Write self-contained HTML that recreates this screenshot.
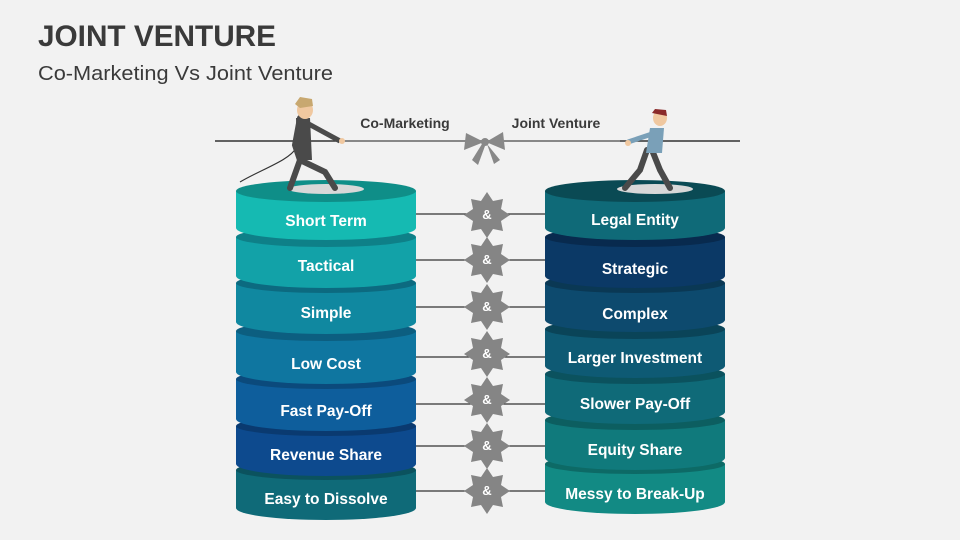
<!DOCTYPE html>
<html><head><meta charset="utf-8"><style>
html,body{margin:0;padding:0;background:#f2f2f2;}
svg{display:block;font-family:"Liberation Sans",sans-serif;}
</style></head><body>
<svg width="960" height="540" viewBox="0 0 960 540">
<rect width="960" height="540" fill="#f2f2f2"/>
<text x="38" y="46" font-size="30" font-weight="bold" fill="#3a3a3a" textLength="238" lengthAdjust="spacingAndGlyphs">JOINT VENTURE</text>
<text x="38" y="80" font-size="20" fill="#3a3a3a" textLength="295" lengthAdjust="spacingAndGlyphs">Co-Marketing Vs Joint Venture</text>
<text x="405" y="128" font-size="14" font-weight="bold" fill="#3a3a3a" text-anchor="middle">Co-Marketing</text>
<text x="556" y="128" font-size="14" font-weight="bold" fill="#3a3a3a" text-anchor="middle">Joint Venture</text>
<line x1="215" y1="141" x2="740" y2="141" stroke="#333" stroke-width="1.5"/>
<line x1="340" y1="141" x2="620" y2="141" stroke="#888" stroke-width="2"/>
<g fill="#888">
<path d="M484,142 L466,133 L464,150 Z"/><path d="M486,142 L503,132 L505,150 Z"/>
<path d="M482,144 L472,160 L478,165 L485,146 Z"/><path d="M487,144 L500,160 L494,164 Z"/>
<circle cx="485" cy="142" r="4"/></g>
<g stroke="#333" stroke-width="1.3">
<line x1="416" y1="214" x2="545" y2="214"/><line x1="416" y1="260" x2="545" y2="260"/>
<line x1="416" y1="307" x2="545" y2="307"/><line x1="416" y1="357" x2="545" y2="357"/>
<line x1="416" y1="404" x2="545" y2="404"/><line x1="416" y1="446" x2="545" y2="446"/>
<line x1="416" y1="491" x2="545" y2="491"/>
</g>
<defs>
<polygon id="star" points="0,-23 6,-14 16,-16 14,-6 23,0 14,6 16,16 6,14 0,23 -6,14 -16,16 -14,6 -23,0 -14,-6 -16,-16 -6,-14" fill="#858585"/>
</defs>
<g font-size="13" font-weight="bold" fill="#fff" text-anchor="middle">
<use href="#star" x="487" y="215"/><text x="487" y="219">&amp;</text>
<use href="#star" x="487" y="260"/><text x="487" y="264">&amp;</text>
<use href="#star" x="487" y="307"/><text x="487" y="311">&amp;</text>
<use href="#star" x="487" y="354"/><text x="487" y="358">&amp;</text>
<use href="#star" x="487" y="400"/><text x="487" y="404">&amp;</text>
<use href="#star" x="487" y="446"/><text x="487" y="450">&amp;</text>
<use href="#star" x="487" y="491"/><text x="487" y="495">&amp;</text>
</g>
<g font-size="15.5" font-weight="bold" fill="#fff" text-anchor="middle">
<path d="M236,470 L236,508 A90,12 0 0 0 416,508 L416,470 Z" fill="#0f6a78"/><ellipse cx="326" cy="470" rx="90" ry="10" fill="#0b525e"/><text x="326" y="504">Easy to Dissolve</text>
<path d="M236,426 L236,464 A90,12 0 0 0 416,464 L416,426 Z" fill="#0d4a8e"/><ellipse cx="326" cy="426" rx="90" ry="10" fill="#0a3a70"/><text x="326" y="460">Revenue Share</text>
<path d="M236,379 L236,419 A90,12 0 0 0 416,419 L416,379 Z" fill="#0e5e9c"/><ellipse cx="326" cy="379" rx="90" ry="10" fill="#0b4a7c"/><text x="326" y="416">Fast Pay-Off</text>
<path d="M236,331 L236,372 A90,12 0 0 0 416,372 L416,331 Z" fill="#0f76a0"/><ellipse cx="326" cy="331" rx="90" ry="10" fill="#0c5e80"/><text x="326" y="369">Low Cost</text>
<path d="M236,283 L236,322 A90,12 0 0 0 416,322 L416,283 Z" fill="#1088a0"/><ellipse cx="326" cy="283" rx="90" ry="10" fill="#0c6a80"/><text x="326" y="318">Simple</text>
<path d="M236,237 L236,276 A90,12 0 0 0 416,276 L416,237 Z" fill="#12a2a8"/><ellipse cx="326" cy="237" rx="90" ry="10" fill="#0e8088"/><text x="326" y="271">Tactical</text>
<path d="M236,191 L236,228 A90,12 0 0 0 416,228 L416,191 Z" fill="#15bab2"/><ellipse cx="326" cy="191" rx="90" ry="11" fill="#0f8e88"/><ellipse cx="326" cy="189" rx="38" ry="5" fill="#d8d8d8"/><text x="326" y="226">Short Term</text>
</g>
<g font-size="15.5" font-weight="bold" fill="#fff" text-anchor="middle">
<path d="M545,464 L545,502 A90,12 0 0 0 725,502 L725,464 Z" fill="#128a84"/><ellipse cx="635" cy="464" rx="90" ry="10" fill="#0d6a66"/><text x="635" y="499">Messy to Break-Up</text>
<path d="M545,420 L545,458 A90,12 0 0 0 725,458 L725,420 Z" fill="#107a7c"/><ellipse cx="635" cy="420" rx="90" ry="10" fill="#0c5e60"/><text x="635" y="455">Equity Share</text>
<path d="M545,374 L545,412 A90,12 0 0 0 725,412 L725,374 Z" fill="#0f6a78"/><ellipse cx="635" cy="374" rx="90" ry="10" fill="#0b525e"/><text x="635" y="409">Slower Pay-Off</text>
<path d="M545,329 L545,366 A90,12 0 0 0 725,366 L725,329 Z" fill="#0e5a74"/><ellipse cx="635" cy="329" rx="90" ry="10" fill="#0a4458"/><text x="635" y="363">Larger Investment</text>
<path d="M545,283 L545,320 A90,12 0 0 0 725,320 L725,283 Z" fill="#0d4a6e"/><ellipse cx="635" cy="283" rx="90" ry="10" fill="#0a3854"/><text x="635" y="319">Complex</text>
<path d="M545,237 L545,276 A90,12 0 0 0 725,276 L725,237 Z" fill="#0b3966"/><ellipse cx="635" cy="237" rx="90" ry="10" fill="#082a4e"/><text x="635" y="274">Strategic</text>
<path d="M545,191 L545,228 A90,12 0 0 0 725,228 L725,191 Z" fill="#0f6a78"/><ellipse cx="635" cy="191" rx="90" ry="11" fill="#0a4a54"/><ellipse cx="655" cy="189" rx="38" ry="5" fill="#d8d8d8"/><text x="635" y="225">Legal Entity</text>
</g>
<g>
<path d="M240,182 C260,170 290,160 296,148" stroke="#333" fill="none" stroke-width="1.2"/>
<path d="M300,118 L295,145 L300,160 L290,188 M300,160 L325,172 L335,188" stroke="#4a4a4a" stroke-width="6" fill="none" stroke-linecap="round"/>
<path d="M296,118 L310,118 L312,160 L297,160 Z" fill="#4a4a4a"/>
<path d="M305,122 L340,141" stroke="#4a4a4a" stroke-width="5"/>
<circle cx="342" cy="141" r="3" fill="#f0c8a0"/>
<ellipse cx="305" cy="110" rx="8" ry="9" fill="#f0c8a0"/>
<path d="M295,104 L300,97 L312,99 L313,106 L300,108 Z" fill="#c8a870"/>
</g>
<g>
<path d="M647,150 L640,170 L625,188 M652,150 L660,170 L670,188" stroke="#4a4a4a" stroke-width="6" fill="none" stroke-linecap="round"/>
<path d="M650,128 L664,128 L662,153 L646,153 Z" fill="#7aa0b8"/>
<path d="M655,133 L628,142" stroke="#7aa0b8" stroke-width="5"/>
<circle cx="628" cy="143" r="3" fill="#f0c8a0"/>
<ellipse cx="660" cy="118" rx="7" ry="8" fill="#f0c8a0"/>
<path d="M652,113 L655,109 L666,110 L667,116 Z" fill="#8a2a2a"/>
</g>
</svg>
</body></html>
